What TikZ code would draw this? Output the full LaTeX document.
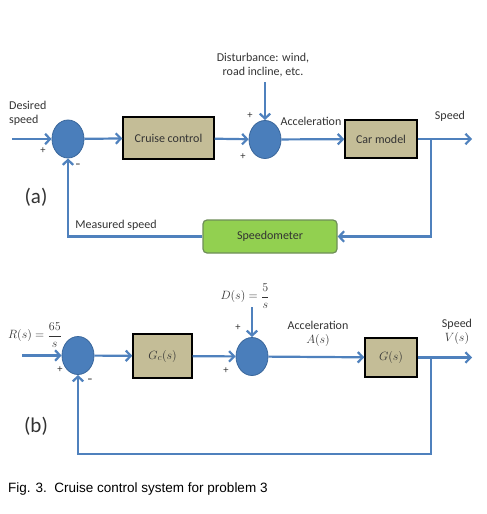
\documentclass[tikz,border=0pt]{standalone}
\usepackage{amsmath}
\usepackage{fontspec}
\setmainfont{Carlito}
\newfontfamily\capfont{Liberation Sans}
\usetikzlibrary{arrows.meta}
\usetikzlibrary{shapes.geometric}
\usetikzlibrary{positioning}
\definecolor{lineblue}{HTML}{4F81BD}
\definecolor{sumblue}{HTML}{4A7EBB}
\definecolor{sumedge}{HTML}{3A679C}
\definecolor{boxtan}{HTML}{C4BD97}
\definecolor{metergreen}{HTML}{92D050}
\definecolor{meteredge}{HTML}{6E8E58}
\definecolor{labelgray}{HTML}{333333}
\tikzset{sig/.style = {draw=lineblue, line width=2.2pt,
                       -{Straight Barb[length=5pt,width=10.5pt]}},
         sumpt/.style = {ellipse, fill=sumblue, draw=sumedge, line width=0.8pt,
                         minimum width=32pt, minimum height=38pt, inner sep=0pt},
         blockbox/.style = {rectangle, fill=boxtan, draw=black, line width=1.4pt,
                            inner sep=0pt, text=labelgray},
         meterbox/.style = {rectangle, rounded corners=4pt, fill=metergreen,
                            draw=meteredge, line width=1.2pt, inner sep=0pt,
                            text=labelgray},
         lbl/.style = {text=labelgray, font=\fontsize{12}{14}\selectfont, inner sep=1pt},
         mth/.style = {text=labelgray, font=\fontsize{12.5}{14}\selectfont, inner sep=1pt},
         sgn/.style = {text=labelgray, font=\fontsize{10.5}{11}\selectfont, inner sep=0pt},
         part/.style = {text=labelgray, font=\fontsize{21}{23}\selectfont}}

\begin{document}
\begin{tikzpicture}[x=1pt, y=-1pt]
    \useasboundingbox (0, 0) rectangle (487, 514);
    % (a) word diagram
    \node [sumpt] (sumA1) at (68, 139) {};
    \node [blockbox, minimum width=91pt, minimum height=42pt, lbl] (ctrlA) at (168.5, 138) {Cruise control};
    \node [sumpt] (sumA2) at (265, 139.5) {};
    \node [blockbox, minimum width=72pt, minimum height=38pt, lbl] (carA) at (381, 139) {Car model};
    \node [meterbox, minimum width=134pt, minimum height=33pt, lbl] (speedo) at (270, 236.5) {Speedometer};
    \node [lbl, align=center] (distA) at (263, 65) {Disturbance: wind,\\road incline, etc.};
    \coordinate (inA) at (12, 139);
    \coordinate (outA) at (472, 139);
    \coordinate (brA) at (431, 139);
    \draw [sig] (inA) -- (sumA1);
    \draw [sig] (sumA1) -- (ctrlA);
    \draw [sig] (ctrlA) -- (sumA2);
    \draw [sig] (sumA2) -- (carA);
    \draw [sig] (carA) -- (outA);
    \draw [sig] ([yshift=-4pt]distA.south -| sumA2) -- (sumA2);
    \draw [sig] (brA) |- (speedo);
    \draw [sig] (speedo) -| (sumA1);
    \node [lbl, align=left, anchor=north west] at (8, 100) {Desired\\speed};
    \node [sgn] at (43, 151) {+};
    \node [sgn] at (78, 166) {\textbf{--}};
    \node [sgn] at (250, 116) {+};
    \node [sgn] at (243, 157) {+};
    \node [lbl] at (311, 121) {Acceleration};
    \node [lbl] at (450, 116) {Speed};
    \node [lbl] at (116, 225) {Measured speed};
    \node [part] at (36, 197) {(a)};
    % (b) transfer functions
    \node [sumpt] (sumB1) at (78, 355.5) {};
    \node [blockbox, minimum width=59pt, minimum height=44pt, mth] (ctrlB) at (162.5, 356) {$G_c(s)$};
    \node [sumpt] (sumB2) at (252, 356.5) {};
    \node [blockbox, minimum width=52pt, minimum height=39pt, mth] (carB) at (391, 357.5) {$G(s)$};
    \coordinate (inB) at (22, 355.5);
    \coordinate (outB) at (472, 357.5);
    \coordinate (brB) at (431, 357.5);
    \coordinate (fbB) at (431, 454);
    \coordinate (distB) at (252, 307);
    \draw [sig] (inB) -- (sumB1);
    \draw [sig] (sumB1) -- (ctrlB);
    \draw [sig] (ctrlB) -- (sumB2);
    \draw [sig] (sumB2) -- (carB);
    \draw [sig] (carB) -- (outB);
    \draw [sig] (distB) -- (sumB2);
    \draw [sig] (brB) -- (fbB) -| (sumB1);
    \node [mth] at (35, 335) {$R(s)=\dfrac{65}{s}$};
    \node [mth] at (245, 296) {$D(s)=\dfrac{5}{s}$};
    \node [sgn] at (60, 370) {+};
    \node [sgn] at (90, 381) {\textbf{--}};
    \node [sgn] at (238, 328) {+};
    \node [sgn] at (226, 371) {+};
    \node [lbl, align=center] at (318, 334) {Acceleration\\$A(s)$};
    \node [lbl, align=center] at (457, 332) {Speed\\$V(s)$};
    \node [part] at (36, 426) {(b)};
    \node [anchor=west, font=\capfont\fontsize{13.5}{15}\selectfont, inner sep=0pt] at (8, 489) {Fig. 3.\ \ Cruise control system for problem 3};
\end{tikzpicture}
\end{document}
